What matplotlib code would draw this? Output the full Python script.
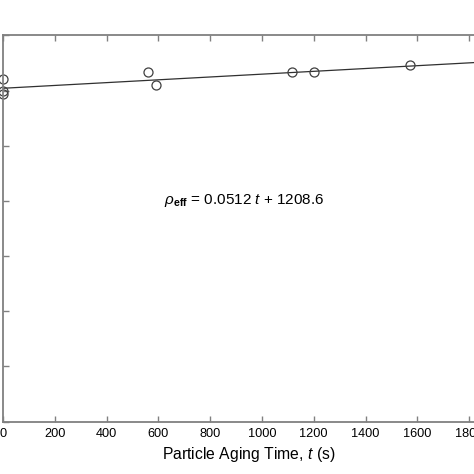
import numpy as np
import matplotlib
matplotlib.use("Agg")
import matplotlib.pyplot as plt

plt.rcParams['font.family'] = ['Liberation Sans', 'DejaVu Sans']
plt.rcParams['mathtext.fontset'] = 'custom'
plt.rcParams['mathtext.rm'] = 'Liberation Sans'
plt.rcParams['mathtext.it'] = 'Liberation Sans:italic'
plt.rcParams['mathtext.bf'] = 'Liberation Sans:bold'

# measured effective density vs aging time
aging_time = [0, 0, 0, 561, 591, 1115, 1200, 1572]
rho_eff = [1242, 1199, 1188, 1268, 1221, 1268, 1268, 1293]

# linear fit
fit_slope = 0.0512
fit_intercept = 1208.6
fit_t = np.array([0, 1900])

x_ticks = [0, 200, 400, 600, 800, 1000, 1200, 1400, 1600, 1800]
y_ticks = [0, 200, 400, 600, 800, 1000, 1200, 1400]

GRAY = '#808080'

fig = plt.figure(figsize=(4.74, 4.74), dpi=100)
# axes run past the right edge like the cropped original
ax = fig.add_axes([3 / 474, 52.5 / 474, 492 / 474, 386 / 474])

ax.plot(fit_t, fit_slope * fit_t + fit_intercept, color='#303030', lw=0.9)
ax.plot(aging_time, rho_eff, 'o', mfc='none', mec='#404040', ms=6.5, mew=0.9,
        clip_on=False)

ax.set_xlim(0, 1900)
ax.set_ylim(0, 1400)
ax.set_xticks(x_ticks)
ax.set_yticks(y_ticks)
ax.set_yticklabels([])
ax.tick_params(direction='in', top=True, right=True, length=4, width=1,
               color=GRAY, labelsize=9.2, pad=5)
for s in ax.spines.values():
    s.set_color(GRAY)
    s.set_linewidth(1.3)

ax.set_xlabel('Particle Aging Time, $t$ (s)', fontsize=11.3, labelpad=3)

ax.text(622, 800, r'$\rho_{\mathbf{eff}}$ = 0.0512 $t$ + 1208.6',
        fontsize=11, ha='left', va='center')

fig.savefig('out.png', dpi=100)
